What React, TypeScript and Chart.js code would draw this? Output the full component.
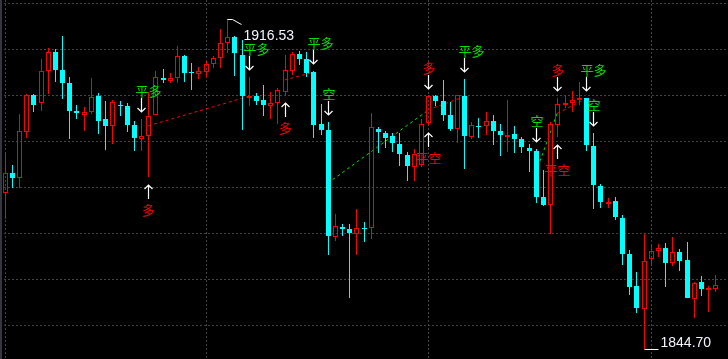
import React, { useEffect, useRef } from 'react';
import { Chart, registerables } from 'chart.js';

Chart.register(...registerables);

// ---- OHLC data (one candle per bar, index 0..99) ----
const opens = [
  1878.85, 1883.11, 1882.11, 1892.24, 1899.93, 1898.41, 1905.37, 1909.35, 1905.43, 1902.61,
  1896.59, 1895.93, 1896.59, 1899.78, 1894.85, 1893.54, 1897.83, 1897.61, 1893.48, 1890.59,
  1891.2, 1895.8, 1903.63, 1903.26, 1903.85, 1908.48, 1905.07, 1904.72, 1905.22, 1907.02,
  1908.2, 1911.59, 1912.67, 1908.7, 1899.57, 1899.72, 1898.91, 1897.89, 1898.41, 1900.93,
  1905.43, 1908.91, 1907.83, 1905.07, 1893.7, 1892.39, 1869.41, 1871.24, 1870.87, 1870.07,
  1871.15, 1871.37, 1892.61, 1891.67, 1891.09, 1889.24, 1886.96, 1884.63, 1885.0, 1894.07,
  1899.78, 1898.7, 1895.65, 1892.89, 1899.78, 1891.15, 1893.26, 1893.41, 1894.35, 1892.17,
  1891.15, 1891.52, 1890.5, 1888.41, 1887.83, 1877.89, 1876.2, 1893.63, 1897.98, 1898.37,
  1899.07, 1899.28, 1888.98, 1880.28, 1876.52, 1876.96, 1873.26, 1865.43, 1858.48, 1853.76,
  1864.5, 1866.24, 1866.67, 1863.63, 1865.8, 1864.13, 1855.8, 1859.28, 1857.83, 1857.98,
];
const highs = [
  1887.39, 1884.78, 1895.93, 1900.22, 1900.22, 1907.76, 1910.28, 1910.0, 1912.83, 1903.91,
  1897.83, 1897.39, 1903.7, 1900.43, 1898.7, 1898.91, 1898.7, 1898.2, 1894.35, 1894.72,
  1900.65, 1905.22, 1905.65, 1904.78, 1910.65, 1908.7, 1906.89, 1906.15, 1907.39, 1908.54,
  1914.35, 1916.53, 1912.83, 1911.96, 1903.85, 1900.37, 1902.17, 1900.72, 1901.46, 1908.7,
  1909.28, 1909.57, 1909.41, 1905.22, 1897.98, 1894.13, 1874.13, 1871.96, 1871.96, 1875.22,
  1872.33, 1896.02, 1893.11, 1892.24, 1891.67, 1891.67, 1887.67, 1888.26, 1894.72, 1899.85,
  1899.93, 1903.26, 1898.48, 1900.07, 1903.41, 1894.2, 1894.93, 1896.24, 1895.59, 1893.7,
  1898.91, 1893.26, 1890.93, 1889.35, 1888.15, 1883.7, 1894.2, 1899.28, 1899.78, 1900.87,
  1902.76, 1899.41, 1891.74, 1880.65, 1877.61, 1877.76, 1873.91, 1866.3, 1861.52, 1869.78,
  1867.61, 1867.61, 1867.89, 1869.07, 1866.52, 1868.04, 1859.3, 1860.59, 1858.41, 1860.87,
];
const lows = [
  1873.04, 1879.85, 1879.72, 1890.72, 1896.3, 1896.59, 1900.28, 1902.89, 1899.07, 1890.5,
  1894.85, 1892.11, 1895.93, 1891.59, 1888.11, 1889.41, 1895.5, 1892.02, 1887.89, 1887.89,
  1882.24, 1895.6, 1902.54, 1902.54, 1902.67, 1902.89, 1901.09, 1903.41, 1903.85, 1905.8,
  1905.8, 1909.2, 1904.13, 1892.39, 1897.61, 1897.83, 1895.43, 1894.72, 1893.7, 1900.0,
  1904.35, 1906.52, 1903.85, 1890.59, 1891.3, 1865.22, 1868.33, 1869.41, 1855.87, 1865.22,
  1868.11, 1868.7, 1887.33, 1888.41, 1887.67, 1884.57, 1881.37, 1881.37, 1884.41, 1893.5,
  1897.61, 1894.41, 1892.24, 1889.63, 1883.91, 1890.37, 1890.72, 1891.3, 1889.2, 1886.8,
  1887.67, 1887.33, 1887.33, 1883.33, 1876.46, 1875.87, 1869.78, 1890.76, 1897.24, 1896.3,
  1897.93, 1887.87, 1875.22, 1875.33, 1875.5, 1872.89, 1863.04, 1856.59, 1852.67, 1844.7,
  1862.76, 1864.85, 1858.33, 1862.76, 1861.8, 1855.8, 1851.59, 1856.24, 1852.89, 1857.24,
];
const closes = [
  1883.04, 1882.02, 1892.11, 1900.0, 1897.89, 1905.22, 1909.35, 1905.5, 1902.67, 1896.59,
  1896.02, 1896.3, 1899.57, 1894.41, 1893.26, 1898.48, 1897.61, 1893.48, 1890.59, 1891.09,
  1895.43, 1903.85, 1903.26, 1903.63, 1908.48, 1904.85, 1904.78, 1905.28, 1906.74, 1908.11,
  1911.24, 1912.54, 1909.2, 1899.78, 1899.85, 1898.76, 1897.83, 1898.26, 1901.09, 1905.43,
  1908.91, 1907.76, 1904.72, 1893.48, 1892.39, 1869.41, 1871.46, 1870.87, 1870.07, 1871.02,
  1870.87, 1893.04, 1892.02, 1890.72, 1889.5, 1887.24, 1884.63, 1887.11, 1893.7, 1899.72,
  1898.76, 1895.65, 1892.61, 1899.93, 1891.15, 1893.48, 1893.04, 1894.28, 1892.24, 1891.37,
  1891.3, 1890.5, 1888.76, 1887.83, 1877.89, 1876.09, 1893.63, 1897.98, 1898.2, 1898.91,
  1899.28, 1889.2, 1880.43, 1876.63, 1876.74, 1873.54, 1865.43, 1858.33, 1853.76, 1863.85,
  1866.02, 1866.67, 1863.54, 1865.87, 1863.85, 1855.93, 1859.07, 1857.83, 1858.04, 1858.63,
];

// ---- grid ----
const yTicks = [1850, 1860, 1870, 1880, 1890, 1900, 1910, 1920];
const xGridIndices = [0, 28, 59, 90];

// ---- trade signals ----
const signalIndex = [19, 20, 34, 39, 43, 45, 59, 59, 64, 74, 77, 77, 81, 82];
const signalText = ['平多', '多', '平多', '多', '平多', '空', '多', '平空', '平多', '空', '多', '平空', '平多', '空'];
const signalSide = ['above', 'below', 'above', 'below', 'above', 'above', 'above', 'below', 'above', 'above', 'above', 'below', 'above', 'above'];

// ---- trade connection lines ----
const tradeFromIndex = [20, 39, 45, 59, 74, 77];
const tradeFromPrice = [1893.3, 1903.26, 1880.8, 1896.8, 1883.1, 1896.0];
const tradeToIndex = [34, 43, 59, 64, 77, 81];
const tradeToPrice = [1899.7, 1904.96, 1896.7, 1899.6, 1896.15, 1899.25];
const tradeDirection = ['long', 'long', 'short', 'long', 'short', 'long'];

const UP = '#ff0000';
const DOWN = '#00ffff';
const GREEN = '#00e000';
const GRID = '#454545';
const BG = '#000000';

const textColor = (t: string) => (t === '多' || t === '平空' ? UP : GREEN);

const candlePlugin = {
  id: 'candles',
  beforeDraw(chart: any) {
    const { ctx } = chart;
    ctx.save();
    ctx.fillStyle = BG;
    ctx.fillRect(0, 0, chart.width, chart.height);
    ctx.restore();
  },
  beforeDatasetsDraw(chart: any) {
    const { ctx, chartArea } = chart;
    const xs = chart.scales.x;
    const ys = chart.scales.y;
    ctx.save();
    ctx.strokeStyle = GRID;
    ctx.lineWidth = 1;
    ctx.setLineDash([2, 2]);
    yTicks.forEach((v) => {
      const py = Math.round(ys.getPixelForValue(v)) + 0.5;
      ctx.beginPath();
      ctx.moveTo(chartArea.left, py);
      ctx.lineTo(chartArea.right, py);
      ctx.stroke();
    });
    xGridIndices.forEach((i) => {
      const px = Math.round(xs.getPixelForValue(i)) + 0.5;
      ctx.beginPath();
      ctx.moveTo(px, chartArea.top);
      ctx.lineTo(px, chartArea.bottom);
      ctx.stroke();
    });
    ctx.setLineDash([]);
    ctx.fillStyle = '#34383e';
    ctx.fillRect(0, 0, 2, chart.height);
    ctx.restore();
  },
  afterDatasetsDraw(chart: any) {
    const { ctx } = chart;
    const xs = chart.scales.x;
    const ys = chart.scales.y;
    ctx.save();
    ctx.lineWidth = 1;
    // candles
    for (let i = 0; i < opens.length; i++) {
      const o = opens[i], h = highs[i], l = lows[i], c = closes[i];
      const cx = Math.round(xs.getPixelForValue(i));
      const yH = Math.round(ys.getPixelForValue(h));
      const yL = Math.round(ys.getPixelForValue(l));
      const yT = Math.round(ys.getPixelForValue(Math.max(o, c)));
      const yB = Math.round(ys.getPixelForValue(Math.min(o, c)));
      const up = c >= o;
      if (up) {
        ctx.strokeStyle = UP;
        ctx.beginPath();
        ctx.moveTo(cx + 0.5, yH);
        ctx.lineTo(cx + 0.5, yT);
        ctx.moveTo(cx + 0.5, yB);
        ctx.lineTo(cx + 0.5, yL);
        ctx.stroke();
        const hh = Math.max(yB - yT, 1);
        ctx.strokeRect(cx - 2 + 0.5, yT + 0.5, 4, hh);
      } else {
        ctx.strokeStyle = DOWN;
        ctx.fillStyle = DOWN;
        ctx.beginPath();
        ctx.moveTo(cx + 0.5, yH);
        ctx.lineTo(cx + 0.5, yL);
        ctx.stroke();
        const hh = Math.max(yB - yT, 1);
        ctx.fillRect(cx - 2, yT, 5, hh);
      }
    }
    // signals
    ctx.font = '13px "Noto Sans CJK SC", sans-serif';
    ctx.textBaseline = 'middle';
    for (let k = 0; k < signalIndex.length; k++) {
      const i = signalIndex[k];
      const t = signalText[k];
      const cx = Math.round(xs.getPixelForValue(i)) + 0.5;
      ctx.strokeStyle = '#ffffff';
      ctx.lineWidth = 1.2;
      if (signalSide[k] === 'above') {
        const tip = Math.round(ys.getPixelForValue(highs[i])) - 7;
        ctx.beginPath();
        ctx.moveTo(cx, tip - 14);
        ctx.lineTo(cx, tip);
        ctx.moveTo(cx - 4, tip - 4);
        ctx.lineTo(cx, tip);
        ctx.lineTo(cx + 4, tip - 4);
        ctx.stroke();
        ctx.fillStyle = textColor(t);
        ctx.textAlign = 'left';
        ctx.fillText(t, cx - 6, tip - 21);
      } else {
        const tip = Math.round(ys.getPixelForValue(lows[i])) + 8;
        ctx.beginPath();
        ctx.moveTo(cx, tip + 14);
        ctx.lineTo(cx, tip);
        ctx.moveTo(cx - 4, tip + 4);
        ctx.lineTo(cx, tip);
        ctx.lineTo(cx + 4, tip + 4);
        ctx.stroke();
        ctx.fillStyle = textColor(t);
        ctx.textAlign = 'center';
        ctx.fillText(t, cx, tip + 25);
      }
    }
    // high / low markers
    let hiIdx = 0, loIdx = 0;
    for (let i = 1; i < highs.length; i++) {
      if (highs[i] > highs[hiIdx]) hiIdx = i;
      if (lows[i] < lows[loIdx]) loIdx = i;
    }
    ctx.strokeStyle = '#ffffff';
    ctx.fillStyle = '#f4f6ff';
    ctx.lineWidth = 1;
    ctx.font = '14px "Liberation Sans", Arial, sans-serif';
    ctx.textAlign = 'left';
    ctx.textBaseline = 'alphabetic';
    {
      const hx = Math.round(xs.getPixelForValue(hiIdx)) + 0.5;
      const hy = Math.round(ys.getPixelForValue(highs[hiIdx])) + 0.5;
      ctx.beginPath();
      ctx.moveTo(hx, hy);
      ctx.lineTo(hx + 5, hy);
      ctx.lineTo(hx + 14, hy + 5);
      ctx.stroke();
      ctx.fillText(highs[hiIdx].toFixed(2), hx + 16, hy + 20);
    }
    {
      const lx = Math.round(xs.getPixelForValue(loIdx)) + 0.5;
      const ly = Math.round(ys.getPixelForValue(lows[loIdx])) + 0.5;
      ctx.beginPath();
      ctx.moveTo(lx, ly);
      ctx.lineTo(lx + 14, ly);
      ctx.stroke();
      ctx.fillText(lows[loIdx].toFixed(2), lx + 16, ly - 3);
    }
    ctx.restore();
  },
};

export default function App() {
  const ref = useRef<HTMLCanvasElement | null>(null);
  useEffect(() => {
    if (!ref.current) return;
    const datasets = tradeFromIndex.map((f, k) => ({
      type: 'line' as const,
      data: [
        { x: f, y: tradeFromPrice[k] },
        { x: tradeToIndex[k], y: tradeToPrice[k] },
      ],
      borderColor: tradeDirection[k] === 'long' ? UP : GREEN,
      borderWidth: 1,
      borderDash: [3, 3],
      pointRadius: 0,
      fill: false,
      tension: 0,
    }));
    const chart = new Chart(ref.current, {
      type: 'line',
      data: { datasets },
      options: {
        animation: false,
        responsive: false,
        devicePixelRatio: 1,
        events: [],
        layout: { padding: 0 },
        plugins: { legend: { display: false }, tooltip: { enabled: false } },
        scales: {
          x: { type: 'linear', min: -0.655, max: 100.77, display: false },
          y: { type: 'linear', min: 1842.6, max: 1920.65, display: false },
        },
      },
      plugins: [candlePlugin],
    });
    return () => chart.destroy();
  }, []);
  return (
    <div style={{ position: 'fixed', left: 0, top: 0, width: 728, height: 359, background: BG }}>
      <canvas ref={ref} width={728} height={359} style={{ display: 'block' }} />
    </div>
  );
}
